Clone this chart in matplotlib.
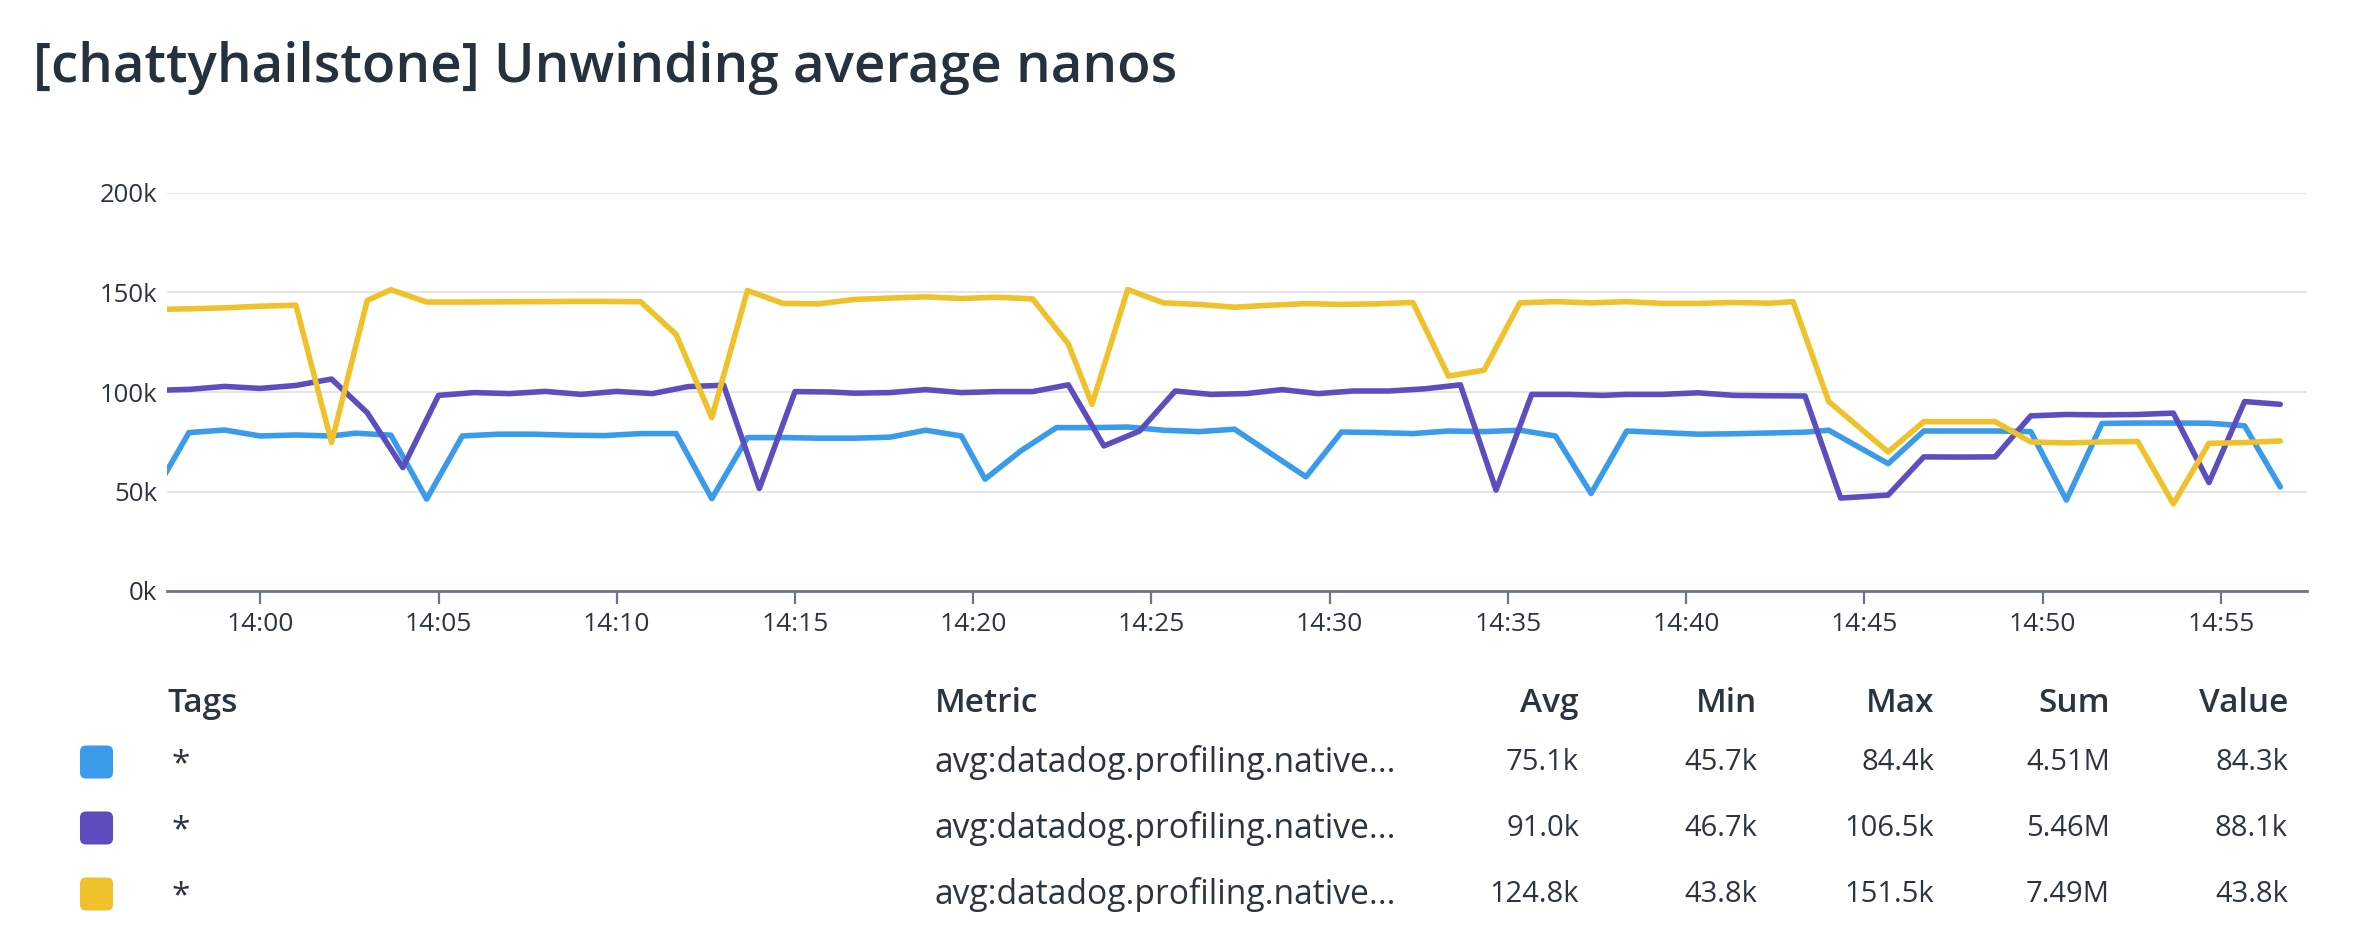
import matplotlib
matplotlib.use("Agg")
import matplotlib.pyplot as plt
import matplotlib.dates as mdates
from matplotlib.patches import FancyBboxPatch
from matplotlib.ticker import FuncFormatter
import pandas as pd

DAY = "2024-01-01 "

# series values in k (thousands of nanos)
blue_times = ["13:57:00", "13:58:00", "13:59:00", "14:00:00", "14:01:00", "14:02:00", "14:02:40", "14:03:40",
              "14:04:40", "14:05:40", "14:06:40", "14:07:40", "14:08:40", "14:09:40", "14:10:40", "14:11:40",
              "14:12:40", "14:13:40", "14:14:40", "14:15:40", "14:16:40", "14:17:40", "14:18:40", "14:19:40",
              "14:20:20", "14:21:20", "14:22:20", "14:23:20", "14:24:20", "14:25:20", "14:26:20", "14:27:20",
              "14:28:20", "14:29:20", "14:30:20", "14:31:20", "14:32:20", "14:33:20", "14:34:20", "14:35:20",
              "14:36:20", "14:37:20", "14:38:20", "14:39:20", "14:40:20", "14:41:20", "14:42:20", "14:43:20",
              "14:44:00", "14:45:40", "14:46:40", "14:47:40", "14:48:40", "14:49:40", "14:50:40", "14:51:40",
              "14:52:40", "14:53:40", "14:54:40", "14:55:40", "14:56:40"]
blue_vals = [48.5, 79.6, 80.9, 77.9, 78.4, 77.9, 79.3, 78.3,
             46.2, 77.9, 78.8, 78.8, 78.3, 78.1, 79.1, 79.1,
             46.4, 77.1, 77.1, 76.8, 76.8, 77.3, 80.8, 77.9,
             56.2, 70.4, 82.1, 82.1, 82.4, 80.8, 80.1, 81.3,
             69.3, 57.4, 79.9, 79.6, 79.1, 80.4, 80.1, 80.8,
             77.9, 49.0, 80.4, 79.6, 78.8, 79.0, 79.4, 79.8,
             80.8, 64.0, 80.4, 80.4, 80.4, 80.1, 45.7, 84.2,
             84.4, 84.4, 84.3, 83.0, 52.3]

purple_times = ["13:57:00", "13:58:00", "13:59:00", "14:00:00", "14:01:00", "14:02:00", "14:03:00", "14:04:00",
                "14:05:00", "14:06:00", "14:07:00", "14:08:00", "14:09:00", "14:10:00", "14:11:00", "14:12:00",
                "14:13:00", "14:14:00", "14:15:00", "14:16:00", "14:16:40", "14:17:40", "14:18:40", "14:19:40",
                "14:20:40", "14:21:40", "14:22:40", "14:23:40", "14:24:40", "14:25:40", "14:26:40", "14:27:40",
                "14:28:40", "14:29:40", "14:30:40", "14:31:40", "14:32:40", "14:33:40", "14:34:40", "14:35:40",
                "14:36:40", "14:37:40", "14:38:20", "14:39:20", "14:40:20", "14:41:20", "14:42:20", "14:43:20",
                "14:44:20", "14:45:40", "14:46:40", "14:47:40", "14:48:40", "14:49:40", "14:50:40", "14:51:40",
                "14:52:40", "14:53:40", "14:54:40", "14:55:40", "14:56:40"]
purple_vals = [100.8, 101.3, 102.8, 101.8, 103.3, 106.5, 89.6, 62.0,
               98.3, 99.7, 99.2, 100.3, 98.8, 100.3, 99.2, 102.7,
               103.4, 51.5, 100.2, 100.0, 99.4, 99.7, 101.2, 99.7,
               100.2, 100.2, 103.6, 72.9, 80.4, 100.5, 98.8, 99.2,
               101.2, 99.2, 100.5, 100.5, 101.6, 103.6, 50.7, 98.8,
               98.8, 98.3, 98.8, 98.8, 99.6, 98.3, 98.1, 98.0,
               46.7, 48.2, 67.4, 67.3, 67.4, 88.0, 88.7, 88.5,
               88.7, 89.4, 54.5, 95.2, 93.8]

yellow_times = ["13:57:00", "13:58:00", "13:59:00", "14:00:00", "14:01:00", "14:02:00", "14:03:00", "14:03:40",
                "14:04:40", "14:05:40", "14:06:40", "14:07:40", "14:08:40", "14:09:40", "14:10:40", "14:11:40",
                "14:12:40", "14:13:40", "14:14:40", "14:15:40", "14:16:40", "14:17:40", "14:18:40", "14:19:40",
                "14:20:40", "14:21:40", "14:22:40", "14:23:20", "14:24:20", "14:25:20", "14:26:20", "14:27:20",
                "14:28:20", "14:29:20", "14:30:20", "14:31:20", "14:32:20", "14:33:20", "14:34:20", "14:35:20",
                "14:36:20", "14:37:20", "14:38:20", "14:39:20", "14:40:20", "14:41:20", "14:42:20", "14:43:00",
                "14:44:00", "14:45:40", "14:46:40", "14:47:40", "14:48:40", "14:49:40", "14:50:40", "14:51:40",
                "14:52:40", "14:53:40", "14:54:40", "14:55:40", "14:56:40"]
yellow_vals = [141.5, 141.8, 142.3, 143.1, 143.6, 74.6, 146.0, 151.4,
               145.2, 145.2, 145.3, 145.4, 145.5, 145.5, 145.4, 128.9,
               87.1, 151.0, 144.5, 144.3, 146.5, 147.2, 147.8, 147.0,
               147.6, 146.8, 124.2, 93.8, 151.5, 144.8, 144.0, 142.6,
               143.6, 144.4, 144.0, 144.3, 145.0, 108.0, 111.0, 144.8,
               145.4, 144.8, 145.4, 144.5, 144.5, 145.0, 144.6, 145.4,
               95.2, 69.9, 85.1, 85.1, 85.1, 74.9, 74.4, 74.9,
               75.1, 43.8, 74.2, 74.6, 75.4]

series_colors = ["#3a9bea", "#5c4ebe", "#efc12a"]
metric_name = "avg:datadog.profiling.native..."
table_header = ["Avg", "Min", "Max", "Sum", "Value"]
table_rows = [["75.1k", "45.7k", "84.4k", "4.51M", "84.3k"],
              ["91.0k", "46.7k", "106.5k", "5.46M", "88.1k"],
              ["124.8k", "43.8k", "151.5k", "7.49M", "43.8k"]]

W, H = 2375, 943
TEXT = "#2b3540"
plt.rcParams['font.family'] = ['Open Sans', 'DejaVu Sans']

fig = plt.figure(figsize=(W / 100, H / 100), dpi=100)
ax = fig.add_axes([167 / W, 1 - 591 / H, (2307 - 167) / W, (591 - 193) / H])

all_series = [(blue_times, blue_vals), (purple_times, purple_vals), (yellow_times, yellow_vals)]
for i, (times, vals) in enumerate(all_series):
    x = pd.to_datetime([DAY + t for t in times])
    y = [v * 1000 for v in vals]
    ax.plot(x, y, color=series_colors[i], linewidth=4.0, solid_joinstyle='round',
            solid_capstyle='round', zorder=3 + i)

ax.set_xlim(pd.Timestamp(DAY + "13:57:23"), pd.Timestamp(DAY + "14:57:25"))
ax.set_ylim(0, 200000)
ax.set_yticks([0, 50000, 100000, 150000, 200000])
ax.yaxis.set_major_formatter(FuncFormatter(lambda v, p: f"{int(v / 1000)}k"))
ax.xaxis.set_major_locator(mdates.MinuteLocator(byminute=range(0, 60, 5)))
ax.xaxis.set_major_formatter(mdates.DateFormatter("%H:%M"))

ax.grid(axis='y', color='#e0e0e0', linewidth=1.2, zorder=0)
ax.set_axisbelow(True)
for side in ['left', 'right', 'top']:
    ax.spines[side].set_visible(False)
ax.spines['bottom'].set_color('#6b7489')
ax.spines['bottom'].set_linewidth(2.0)
ax.spines['bottom'].set_zorder(10)
ax.tick_params(axis='y', length=0, pad=7, labelsize=18.5, labelcolor=TEXT)
ax.tick_params(axis='x', length=9, width=1.6, color='#6b7489', pad=6, labelsize=19, labelcolor=TEXT)

# title
fig.text(33 / W, 1 - 68 / H, "[chattyhailstone] Unwinding average nanos", fontsize=39.4,
         fontweight='semibold', color='#25313c', va='center', ha='left')

# legend table
def fy(y):
    return 1 - y / H

header_y = 703
fig.text(168 / W, fy(header_y), "Tags", fontsize=24, fontweight='semibold', color=TEXT, va='center')
fig.text(935 / W, fy(header_y), "Metric", fontsize=24, fontweight='semibold', color=TEXT, va='center')
col_right = [1579, 1757, 1934, 2110, 2288]
for j, name in enumerate(table_header):
    fig.text(col_right[j] / W, fy(header_y), name, fontsize=24, fontweight='semibold', color=TEXT,
             va='center', ha='right')

row_y = [762, 828, 894]
for r in range(3):
    sw = FancyBboxPatch((80 / 100, (H - row_y[r] - 16.5) / 100), 33 / 100, 33 / 100,
                        boxstyle="round,pad=0,rounding_size=0.06", transform=fig.dpi_scale_trans,
                        facecolor=series_colors[r], edgecolor='none')
    fig.add_artist(sw)
    fig.text(172 / W, fy(row_y[r] + 3), "*", fontsize=24, color=TEXT, va='center')
    fig.text(935 / W, fy(row_y[r]), metric_name, fontsize=24.2, color=TEXT, va='center')
    for j, val in enumerate(table_rows[r]):
        fig.text(col_right[j] / W, fy(row_y[r]), val, fontsize=21, color=TEXT, va='center', ha='right')

fig.savefig("out.png", dpi=100, facecolor='white')
